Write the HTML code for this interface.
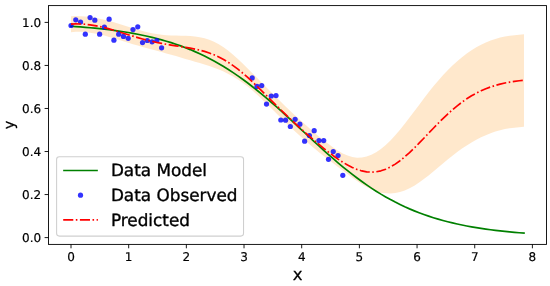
<!DOCTYPE html>
<html><head><meta charset="utf-8"><title>GP prediction</title>
<style>
html,body{margin:0;padding:0;background:#fff;}
body{width:550px;height:286px;overflow:hidden;}
svg{display:block;font-family:"DejaVu Sans","Liberation Sans",sans-serif;text-rendering:geometricPrecision;}
text{stroke:#000;stroke-width:0.35px;stroke-linejoin:round;}
.tk{font-size:12px;fill:#000;}
.tk text{stroke-width:0.2px;}
.lb{font-size:16.5px;fill:#000;}
.lg{font-size:16.85px;fill:#000;}
.ly{font-size:14.7px;fill:#000;stroke-width:0.25px;}
.lb{stroke-width:0.3px;}
</style></head><body>
<svg width="550" height="286" viewBox="0 0 550 286">
<rect width="550" height="286" fill="#fff"/>
<path d="M71.00 16.18 L75.77 16.12 L80.54 16.21 L85.30 16.50 L90.07 17.00 L94.84 17.72 L99.61 18.64 L104.38 19.74 L109.15 20.98 L113.91 22.34 L118.68 23.77 L123.45 25.24 L128.22 26.72 L132.99 28.19 L137.75 29.61 L142.52 30.94 L147.29 32.17 L152.06 33.23 L156.83 34.10 L161.60 34.76 L166.36 35.21 L171.13 35.48 L175.90 35.61 L180.67 35.68 L185.44 35.78 L190.20 36.00 L194.97 36.43 L199.74 37.16 L204.51 38.26 L209.28 39.80 L214.05 41.81 L218.81 44.31 L223.58 47.31 L228.35 50.78 L233.12 54.67 L237.89 58.91 L242.65 63.42 L247.42 68.13 L252.19 72.95 L256.96 77.82 L261.73 82.69 L266.50 87.55 L271.26 92.36 L276.03 97.12 L280.80 101.82 L285.57 106.44 L290.34 110.99 L295.11 115.44 L299.87 119.81 L304.64 124.09 L309.41 128.28 L314.18 132.38 L318.95 136.40 L323.71 140.30 L328.48 144.04 L333.25 147.55 L338.02 150.72 L342.79 153.42 L347.56 155.54 L352.32 156.97 L357.09 157.64 L361.86 157.51 L366.63 156.56 L371.40 154.81 L376.16 152.27 L380.93 149.00 L385.70 145.03 L390.47 140.45 L395.24 135.32 L400.01 129.74 L404.77 123.80 L409.54 117.62 L414.31 111.28 L419.08 104.89 L423.85 98.54 L428.61 92.32 L433.38 86.35 L438.15 80.65 L442.92 75.26 L447.69 70.18 L452.46 65.48 L457.22 61.16 L461.99 57.21 L466.76 53.58 L471.53 50.27 L476.30 47.32 L481.06 44.75 L485.83 42.52 L490.60 40.59 L495.37 38.96 L500.14 37.61 L504.91 36.56 L509.67 35.76 L514.44 35.15 L519.21 34.66 L523.98 34.21 L523.98 126.74 L519.21 127.19 L514.44 127.70 L509.67 128.33 L504.91 129.12 L500.14 130.15 L495.37 131.52 L490.60 133.24 L485.83 135.21 L481.06 137.37 L476.30 139.79 L471.53 142.47 L466.76 145.40 L461.99 148.57 L457.22 152.00 L452.46 155.64 L447.69 159.49 L442.92 163.47 L438.15 167.51 L433.38 171.50 L428.61 175.38 L423.85 179.08 L419.08 182.52 L414.31 185.64 L409.54 188.31 L404.77 190.48 L400.01 192.08 L395.24 193.02 L390.47 193.44 L385.70 193.37 L380.93 192.66 L376.16 191.34 L371.40 189.46 L366.63 187.07 L361.86 184.25 L357.09 181.08 L352.32 177.65 L347.56 174.07 L342.79 170.46 L338.02 166.89 L333.25 163.35 L328.48 159.78 L323.71 156.11 L318.95 152.30 L314.18 148.35 L309.41 144.27 L304.64 140.08 L299.87 135.80 L295.11 131.43 L290.34 126.97 L285.57 122.43 L280.80 117.79 L276.03 113.09 L271.26 108.35 L266.50 103.63 L261.73 98.99 L256.96 94.51 L252.19 90.27 L247.42 86.31 L242.65 82.69 L237.89 79.42 L233.12 76.50 L228.35 73.91 L223.58 71.62 L218.81 69.58 L214.05 67.76 L209.28 66.11 L204.51 64.58 L199.74 63.12 L194.97 61.70 L190.20 60.31 L185.44 58.91 L180.67 57.51 L175.90 56.12 L171.13 54.74 L166.36 53.39 L161.60 52.08 L156.83 50.79 L152.06 49.52 L147.29 48.24 L142.52 46.93 L137.75 45.56 L132.99 44.14 L128.22 42.68 L123.45 41.19 L118.68 39.70 L113.91 38.26 L109.15 36.88 L104.38 35.60 L99.61 34.45 L94.84 33.45 L90.07 32.64 L85.30 32.06 L80.54 31.76 L75.77 31.80 L71.00 32.22Z" fill="#ff8c00" fill-opacity="0.2" stroke="none"/>
<path d="M71.00 26.27 L75.77 26.60 L80.54 26.95 L85.30 27.34 L90.07 27.75 L94.84 28.20 L99.61 28.68 L104.38 29.21 L109.15 29.77 L113.91 30.39 L118.68 31.05 L123.45 31.76 L128.22 32.53 L132.99 33.36 L137.75 34.25 L142.52 35.21 L147.29 36.24 L152.06 37.35 L156.83 38.55 L161.60 39.83 L166.36 41.20 L171.13 42.66 L175.90 44.23 L180.67 45.91 L185.44 47.70 L190.20 49.60 L194.97 51.63 L199.74 53.78 L204.51 56.06 L209.28 58.48 L214.05 61.03 L218.81 63.72 L223.58 66.55 L228.35 69.52 L233.12 72.63 L237.89 75.89 L242.65 79.28 L247.42 82.80 L252.19 86.46 L256.96 90.24 L261.73 94.14 L266.50 98.14 L271.26 102.25 L276.03 106.44 L280.80 110.72 L285.57 115.05 L290.34 119.43 L295.11 123.85 L299.87 128.30 L304.64 132.74 L309.41 137.18 L314.18 141.59 L318.95 145.97 L323.71 150.29 L328.48 154.54 L333.25 158.72 L338.02 162.80 L342.79 166.78 L347.56 170.66 L352.32 174.41 L357.09 178.03 L361.86 181.53 L366.63 184.89 L371.40 188.11 L376.16 191.19 L380.93 194.13 L385.70 196.92 L390.47 199.58 L395.24 202.10 L400.01 204.48 L404.77 206.74 L409.54 208.86 L414.31 210.85 L419.08 212.73 L423.85 214.49 L428.61 216.14 L433.38 217.69 L438.15 219.13 L442.92 220.48 L447.69 221.74 L452.46 222.91 L457.22 224.00 L461.99 225.02 L466.76 225.96 L471.53 226.84 L476.30 227.66 L481.06 228.41 L485.83 229.11 L490.60 229.76 L495.37 230.36 L500.14 230.92 L504.91 231.43 L509.67 231.91 L514.44 232.35 L519.21 232.76 L523.98 233.13" fill="none" stroke="#008000" stroke-width="1.68" stroke-linecap="square" stroke-linejoin="round"/>
<g fill="#0000ff" fill-opacity="0.8">
<circle cx="71.00" cy="25.50" r="2.6"/>
<circle cx="75.77" cy="19.80" r="2.6"/>
<circle cx="80.54" cy="22.00" r="2.6"/>
<circle cx="85.30" cy="34.20" r="2.6"/>
<circle cx="90.07" cy="17.60" r="2.6"/>
<circle cx="94.84" cy="20.20" r="2.6"/>
<circle cx="99.61" cy="34.20" r="2.6"/>
<circle cx="104.38" cy="27.10" r="2.6"/>
<circle cx="109.15" cy="19.20" r="2.6"/>
<circle cx="113.91" cy="40.20" r="2.6"/>
<circle cx="118.68" cy="34.20" r="2.6"/>
<circle cx="123.45" cy="36.40" r="2.6"/>
<circle cx="128.22" cy="38.30" r="2.6"/>
<circle cx="132.99" cy="29.60" r="2.6"/>
<circle cx="137.75" cy="26.80" r="2.6"/>
<circle cx="142.52" cy="42.60" r="2.6"/>
<circle cx="147.29" cy="40.50" r="2.6"/>
<circle cx="152.06" cy="41.80" r="2.6"/>
<circle cx="156.83" cy="40.50" r="2.6"/>
<circle cx="161.60" cy="47.80" r="2.6"/>
<circle cx="252.19" cy="77.90" r="2.6"/>
<circle cx="256.96" cy="86.40" r="2.6"/>
<circle cx="261.73" cy="85.60" r="2.6"/>
<circle cx="266.50" cy="104.10" r="2.6"/>
<circle cx="271.26" cy="96.00" r="2.6"/>
<circle cx="276.03" cy="95.60" r="2.6"/>
<circle cx="280.80" cy="120.00" r="2.6"/>
<circle cx="285.57" cy="120.20" r="2.6"/>
<circle cx="290.34" cy="126.50" r="2.6"/>
<circle cx="295.11" cy="119.30" r="2.6"/>
<circle cx="299.87" cy="124.20" r="2.6"/>
<circle cx="304.64" cy="141.20" r="2.6"/>
<circle cx="309.41" cy="135.50" r="2.6"/>
<circle cx="314.18" cy="130.70" r="2.6"/>
<circle cx="318.95" cy="140.60" r="2.6"/>
<circle cx="323.71" cy="140.60" r="2.6"/>
<circle cx="328.48" cy="159.30" r="2.6"/>
<circle cx="333.25" cy="151.60" r="2.6"/>
<circle cx="338.02" cy="155.50" r="2.6"/>
<circle cx="342.79" cy="175.30" r="2.6"/>
</g>
<path d="M71.00 24.20 L75.77 23.96 L80.54 23.99 L85.30 24.28 L90.07 24.82 L94.84 25.58 L99.61 26.54 L104.38 27.67 L109.15 28.93 L113.91 30.30 L118.68 31.73 L123.45 33.21 L128.22 34.70 L132.99 36.16 L137.75 37.58 L142.52 38.94 L147.29 40.21 L152.06 41.38 L156.83 42.45 L161.60 43.42 L166.36 44.30 L171.13 45.11 L175.90 45.86 L180.67 46.60 L185.44 47.34 L190.20 48.15 L194.97 49.07 L199.74 50.14 L204.51 51.42 L209.28 52.95 L214.05 54.78 L218.81 56.95 L223.58 59.46 L228.35 62.34 L233.12 65.58 L237.89 69.16 L242.65 73.06 L247.42 77.22 L252.19 81.61 L256.96 86.17 L261.73 90.84 L266.50 95.59 L271.26 100.36 L276.03 105.10 L280.80 109.80 L285.57 114.43 L290.34 118.98 L295.11 123.44 L299.87 127.81 L304.64 132.09 L309.41 136.28 L314.18 140.39 L318.95 144.40 L323.71 148.31 L328.48 152.09 L333.25 155.70 L338.02 159.10 L342.79 162.23 L347.56 165.05 L352.32 167.48 L357.09 169.46 L361.86 170.93 L366.63 171.83 L371.40 172.14 L376.16 171.81 L380.93 170.83 L385.70 169.20 L390.47 166.94 L395.24 164.10 L400.01 160.71 L404.77 156.85 L409.54 152.58 L414.31 148.00 L419.08 143.18 L423.85 138.22 L428.61 133.20 L433.38 128.21 L438.15 123.31 L442.92 118.57 L447.69 114.04 L452.46 109.78 L457.22 105.81 L461.99 102.15 L466.76 98.82 L471.53 95.83 L476.30 93.15 L481.06 90.80 L485.83 88.74 L490.60 86.96 L495.37 85.43 L500.14 84.13 L504.91 83.04 L509.67 82.14 L514.44 81.38 L519.21 80.77 L523.98 80.27" fill="none" stroke="#ff0000" stroke-width="1.68" stroke-dasharray="10.09 2.52 1.58 2.52" stroke-linejoin="round"/>
<rect x="48.5" y="5.6" width="498.0" height="238.8" fill="none" stroke="#000" stroke-width="0.9"/>
<g stroke="#000" stroke-width="0.9">
<line x1="71.00" y1="244.4" x2="71.00" y2="248.3"/>
<line x1="128.68" y1="244.4" x2="128.68" y2="248.3"/>
<line x1="186.35" y1="244.4" x2="186.35" y2="248.3"/>
<line x1="244.02" y1="244.4" x2="244.02" y2="248.3"/>
<line x1="301.70" y1="244.4" x2="301.70" y2="248.3"/>
<line x1="359.38" y1="244.4" x2="359.38" y2="248.3"/>
<line x1="417.05" y1="244.4" x2="417.05" y2="248.3"/>
<line x1="474.72" y1="244.4" x2="474.72" y2="248.3"/>
<line x1="532.40" y1="244.4" x2="532.40" y2="248.3"/>
<line x1="44.6" y1="237.60" x2="48.5" y2="237.60"/>
<line x1="44.6" y1="194.56" x2="48.5" y2="194.56"/>
<line x1="44.6" y1="151.52" x2="48.5" y2="151.52"/>
<line x1="44.6" y1="108.48" x2="48.5" y2="108.48"/>
<line x1="44.6" y1="65.44" x2="48.5" y2="65.44"/>
<line x1="44.6" y1="22.40" x2="48.5" y2="22.40"/>
</g>
<g class="tk" text-anchor="middle">
<text x="71.00" y="261.1">0</text>
<text x="128.68" y="261.1">1</text>
<text x="186.35" y="261.1">2</text>
<text x="244.02" y="261.1">3</text>
<text x="301.70" y="261.1">4</text>
<text x="359.38" y="261.1">5</text>
<text x="417.05" y="261.1">6</text>
<text x="474.72" y="261.1">7</text>
<text x="532.40" y="261.1">8</text>
</g>
<g class="tk" text-anchor="end">
<text x="41.2" y="241.85">0.0</text>
<text x="41.2" y="198.81">0.2</text>
<text x="41.2" y="155.77">0.4</text>
<text x="41.2" y="112.73">0.6</text>
<text x="41.2" y="69.69">0.8</text>
<text x="41.2" y="26.65">1.0</text>
</g>
<text class="lb" text-anchor="middle" x="297.6" y="279.9">x</text>
<text class="ly" text-anchor="middle" transform="translate(13.85 124.95) rotate(-90)">y</text>
<rect x="56.6" y="156.7" width="186.95" height="79.4" rx="2.8" ry="2.8" fill="#fff" fill-opacity="0.8" stroke="#cfcfcf" stroke-width="1.05"/>
<line x1="64" y1="170.5" x2="97" y2="170.5" stroke="#008000" stroke-width="1.68" stroke-linecap="square"/>
<circle cx="80.5" cy="195.2" r="2.6" fill="#0000ff" fill-opacity="0.8"/>
<line x1="63.2" y1="219.8" x2="97.9" y2="219.8" stroke="#ff0000" stroke-width="1.68" stroke-dasharray="10.09 2.52 1.58 2.52"/>
<g class="lg"><text x="110.9" y="176.1">Data Model</text><text x="110.9" y="200.9">Data Observed</text><text x="110.9" y="225.7">Predicted</text></g>
</svg></body></html>
